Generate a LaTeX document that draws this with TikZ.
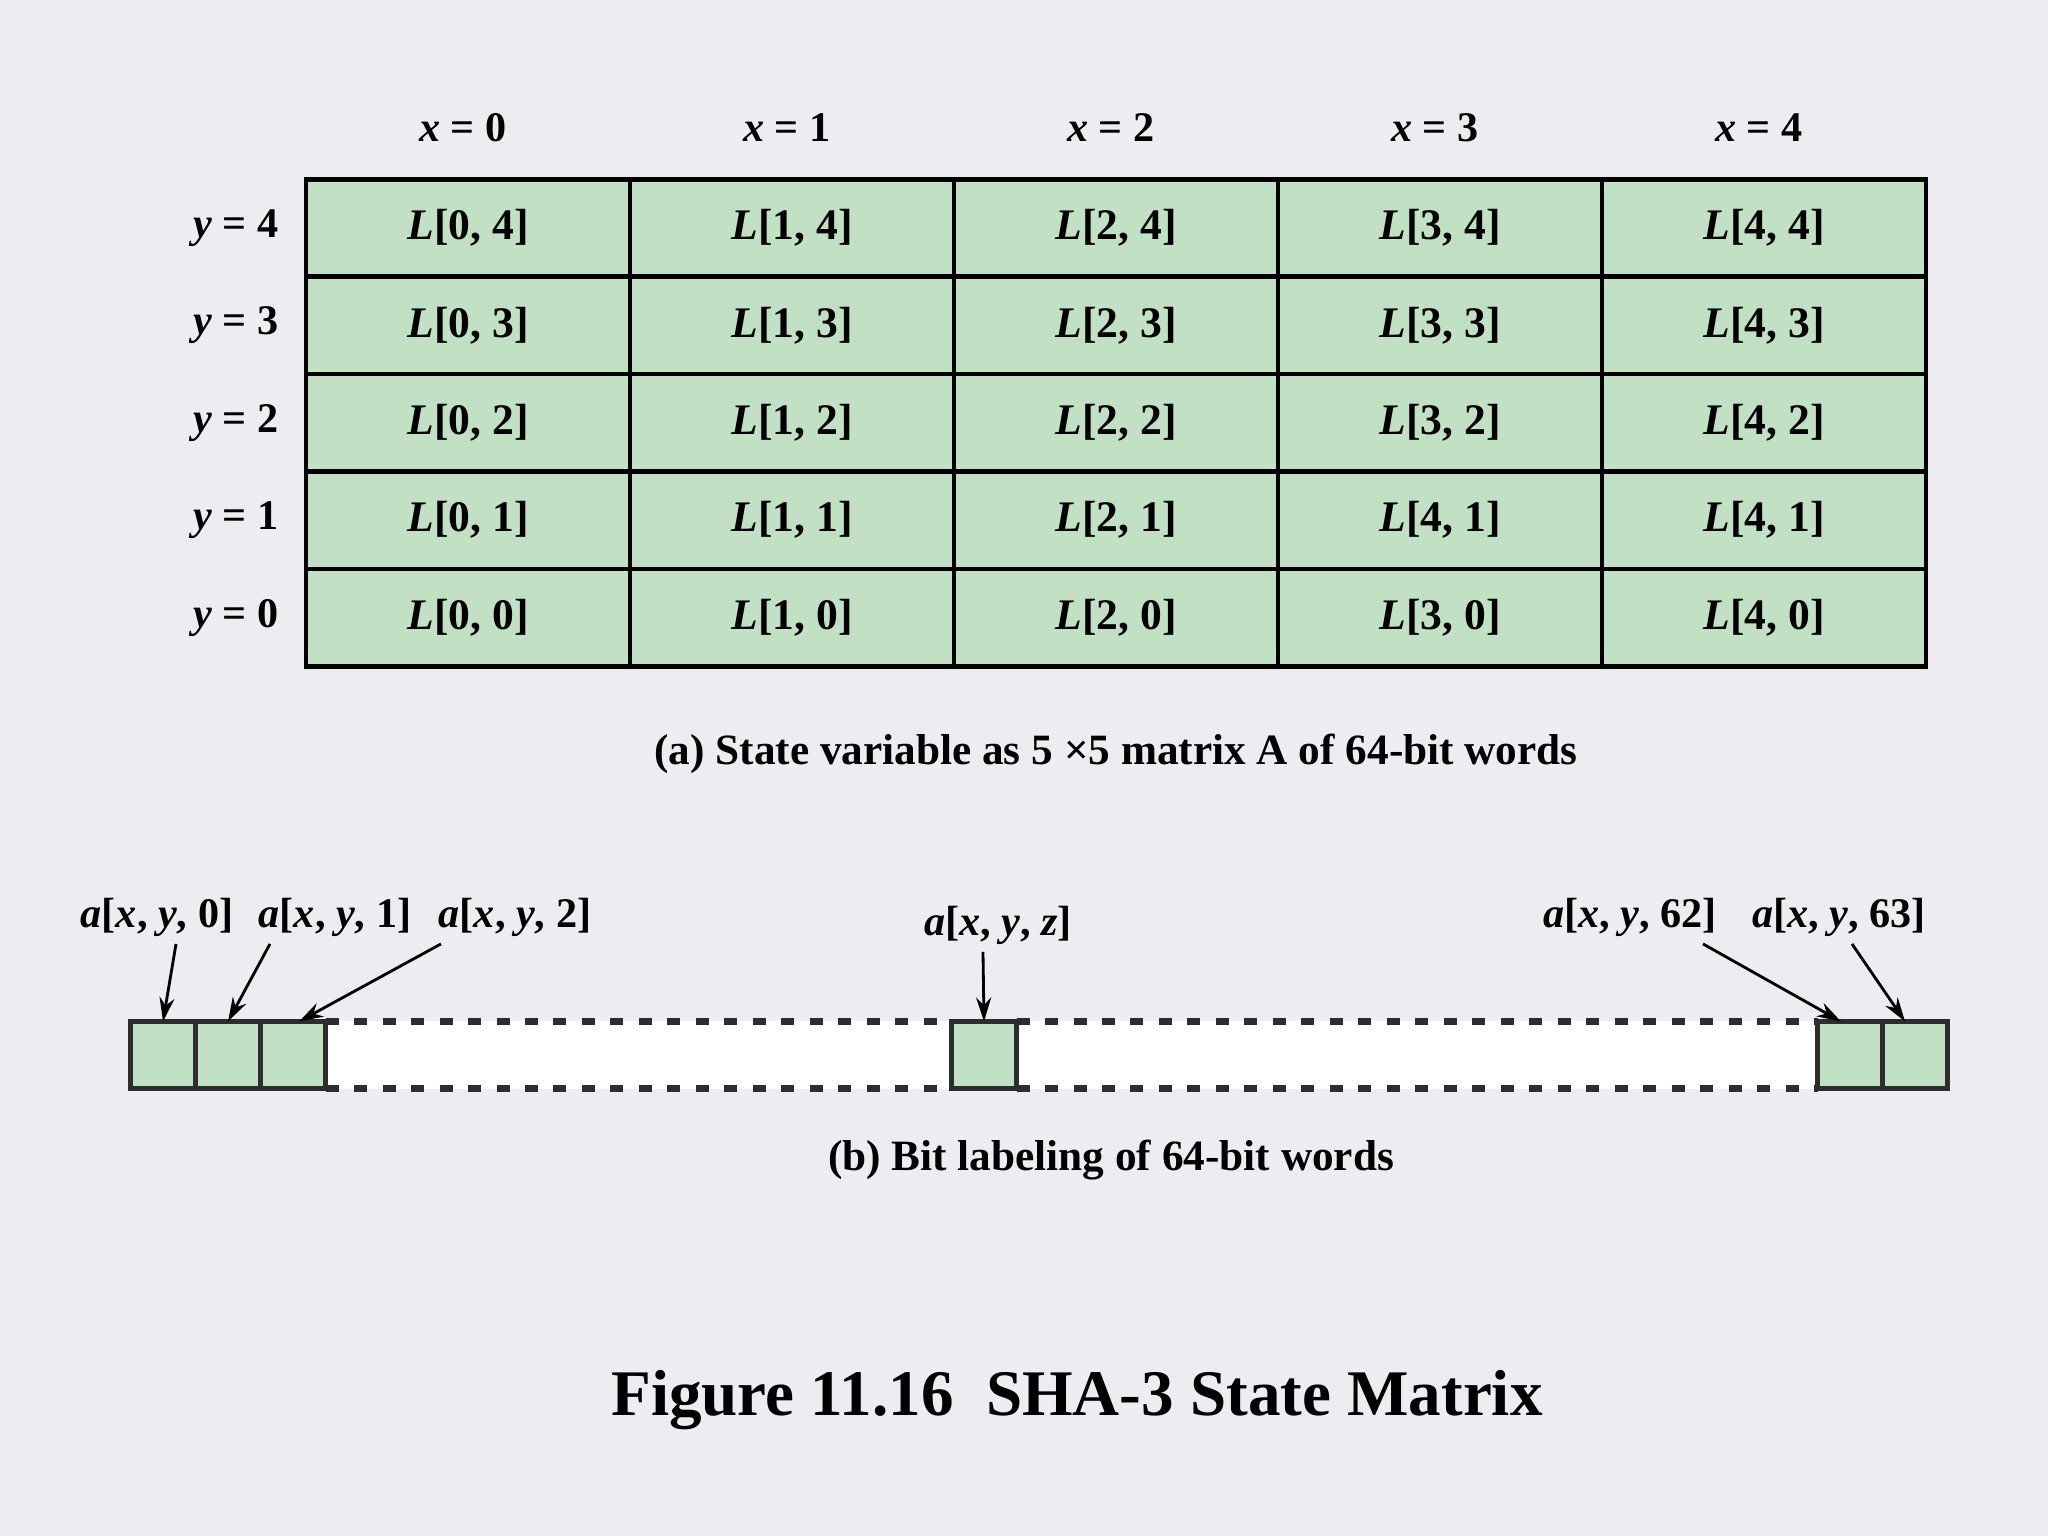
\documentclass[tikz,border=0pt]{standalone}
\usepackage{fontspec}
\setmainfont{Liberation Serif}
\usetikzlibrary{positioning,arrows.meta,backgrounds}
\definecolor{paper}{RGB}{237,237,241}
\definecolor{cellgreen}{RGB}{194,224,195}
\definecolor{bitedge}{RGB}{45,45,45}
\tikzset{>={Stealth[length=2.4mm,width=1.5mm]}}

\begin{document}
\begin{tikzpicture}[x=0.01cm,y=-0.01cm,
cellnode/.style={rectangle, draw=black, line width=1.3pt, fill=cellgreen, minimum width=3.24cm, minimum height=0.974cm, inner sep=0pt, outer sep=0pt, font=\bfseries\fontsize{12.4}{14}\selectfont},
bitnode/.style={rectangle, draw=bitedge, line width=1.3pt, fill=cellgreen, minimum width=0.65cm, minimum height=0.67cm, inner sep=0pt, outer sep=0pt},
labelnode/.style={font=\bfseries\fontsize{12}{14}\selectfont, inner sep=2pt},
captionnode/.style={font=\bfseries\fontsize{12.3}{14}\selectfont},
gapline/.style={draw=bitedge, line width=2.2pt, dash pattern=on 3.7pt off 4.4pt},
bitarrow/.style={->, line width=0.8pt},
]
\useasboundingbox (0,0) rectangle (2048,1536);
\begin{scope}[on background layer]
\fill[paper] (0,0) rectangle (2048,1536);
\end{scope}

%Matrix
\foreach \y/\xs in {4/{0,1,2,3,4},3/{0,1,2,3,4},2/{0,1,2,3,4},1/{0,1,2,4,4},0/{0,1,2,3,4}}
  \foreach \xl [count=\x from 0] in \xs
    \node[cellnode] (c-\x-\y) at ({468+324*\x},{228+97.4*(4-\y)}) {\textit{L}[\xl, \y]};
\foreach \x in {0,...,4}
  \node[labelnode, above=3mm of c-\x-4, xshift=-0.05cm] (xl-\x) {\textit{x} = \x};
\foreach \y in {0,...,4}
  \node[labelnode, left=2mm of c-0-\y] (yl-\y) {\textit{y} = \y};
\node[captionnode, below=5.5mm of c-2-0] (capa) {(a) State variable as 5 ×5 matrix A of 64-bit words};

%Bits
\node[bitnode] (b0) at (163,1055) {};
\node[bitnode, right=0pt of b0] (b1) {};
\node[bitnode, right=0pt of b1] (b2) {};
\node[bitnode] (bz) at (984,1055) {};
\node[bitnode] (b62) at (1850,1055) {};
\node[bitnode, right=0pt of b62] (b63) {};
\begin{scope}[on background layer]
\fill[white] (b2.north east) rectangle (bz.south west);
\fill[white] (bz.north east) rectangle (b62.south west);
\end{scope}
\draw[gapline] (b2.north east) -- (bz.north west);
\draw[gapline] (b2.south east) -- (bz.south west);
\draw[gapline] (bz.north east) -- (b62.north west);
\draw[gapline] (bz.south east) -- (b62.south west);

\node[labelnode] (l0) at (157,917) {\textit{a}[\textit{x}, \textit{y}, 0]};
\node[labelnode] (l1) at (335,917) {\textit{a}[\textit{x}, \textit{y}, 1]};
\node[labelnode] (l2) at (515,917) {\textit{a}[\textit{x}, \textit{y}, 2]};
\node[labelnode] (lz) at (998,925) {\textit{a}[\textit{x}, \textit{y}, \textit{z}]};
\node[labelnode] (l62) at (1630,917) {\textit{a}[\textit{x}, \textit{y}, 62]};
\node[labelnode] (l63) at (1839,917) {\textit{a}[\textit{x}, \textit{y}, 63]};

%Arrows
\draw[bitarrow] ([xshift=0.19cm]l0.south) -- (b0.north);
\draw[bitarrow] ([xshift=-0.65cm]l1.south) -- (b1.north);
\draw[bitarrow] ([xshift=-0.74cm]l2.south) -- ([xshift=0.06cm]b2.north);
\draw[bitarrow] ([xshift=-0.15cm]lz.south) -- (bz.north);
\draw[bitarrow] ([xshift=0.73cm]l62.south) -- ([xshift=-0.09cm]b62.north);
\draw[bitarrow] ([xshift=0.13cm]l63.south) -- ([xshift=-0.1cm]b63.north);

%Captions
\node[captionnode] (capb) at (1111,1160) {(b) Bit labeling of 64-bit words};
\node[font=\bfseries\fontsize{18.5}{22}\selectfont] (title) at (1077,1400) {Figure 11.16\enspace SHA-3 State Matrix};

\end{tikzpicture}
\end{document}
